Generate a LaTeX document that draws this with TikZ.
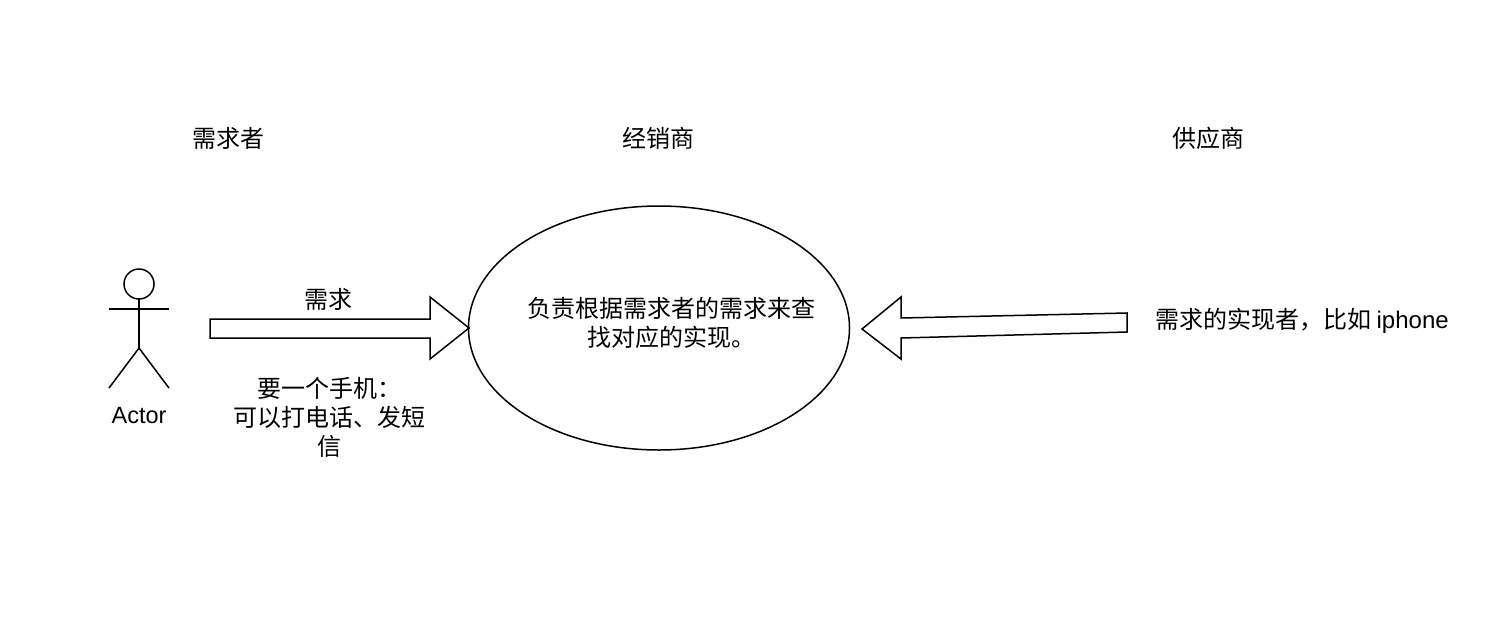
\documentclass[tikz,border=0pt]{standalone}
\usepackage{fontspec}
\setmainfont{Liberation Sans}
\newfontfamily\cjk{Noto Sans CJK SC}
\usetikzlibrary{shapes.geometric}

\begin{document}
\begin{tikzpicture}[x=1pt,y=-1pt,line width=1.5pt,
  lbl/.style={font=\fontsize{24}{29}\selectfont\cjk,align=center,inner sep=0pt}]
\useasboundingbox (0,0) rectangle (1510,616);
% column titles
\node[lbl] (demandtitle) at (228,138) {需求者};
\node[lbl] (dealertitle) at (658,138) {经销商};
\node[lbl] (suppliertitle) at (1208,138) {供应商};
% actor
\draw (139,284) circle (15);
\draw (139,299) -- (139,348);
\draw (109,309) -- (169,309);
\draw (109,388) -- (139,348) -- (169,388);
\node[lbl,font=\fontsize{23.5}{29}\selectfont] (actor) at (139,416) {Actor};
% dealer
\node[draw,ellipse,minimum width=381pt,minimum height=244pt] (dealer) at (659,328) {};
\node[lbl] (dealertext) at (671,323) {负责根据需求者的需求来查\\找对应的实现。};
% arrows
\draw[line join=miter] (210,319) -- (430,319) -- (430,297) -- (469,328) -- (430,359) -- (430,338) -- (210,338) -- cycle;
\draw[line join=miter] (1127,313) -- (901,318) -- (901,297) -- (862,329) -- (901,359) -- (901,338) -- (1127,332) -- cycle;
\node[lbl] (demand) at (328,299) {需求};
\node[lbl] (phone) at (329,417) {要一个手机：\\可以打电话、发短\\信};
\node[lbl] (supplier) at (1302,321) {需求的实现者，比如 {\fontspec{Liberation Sans}iphone}};
\end{tikzpicture}
\end{document}
